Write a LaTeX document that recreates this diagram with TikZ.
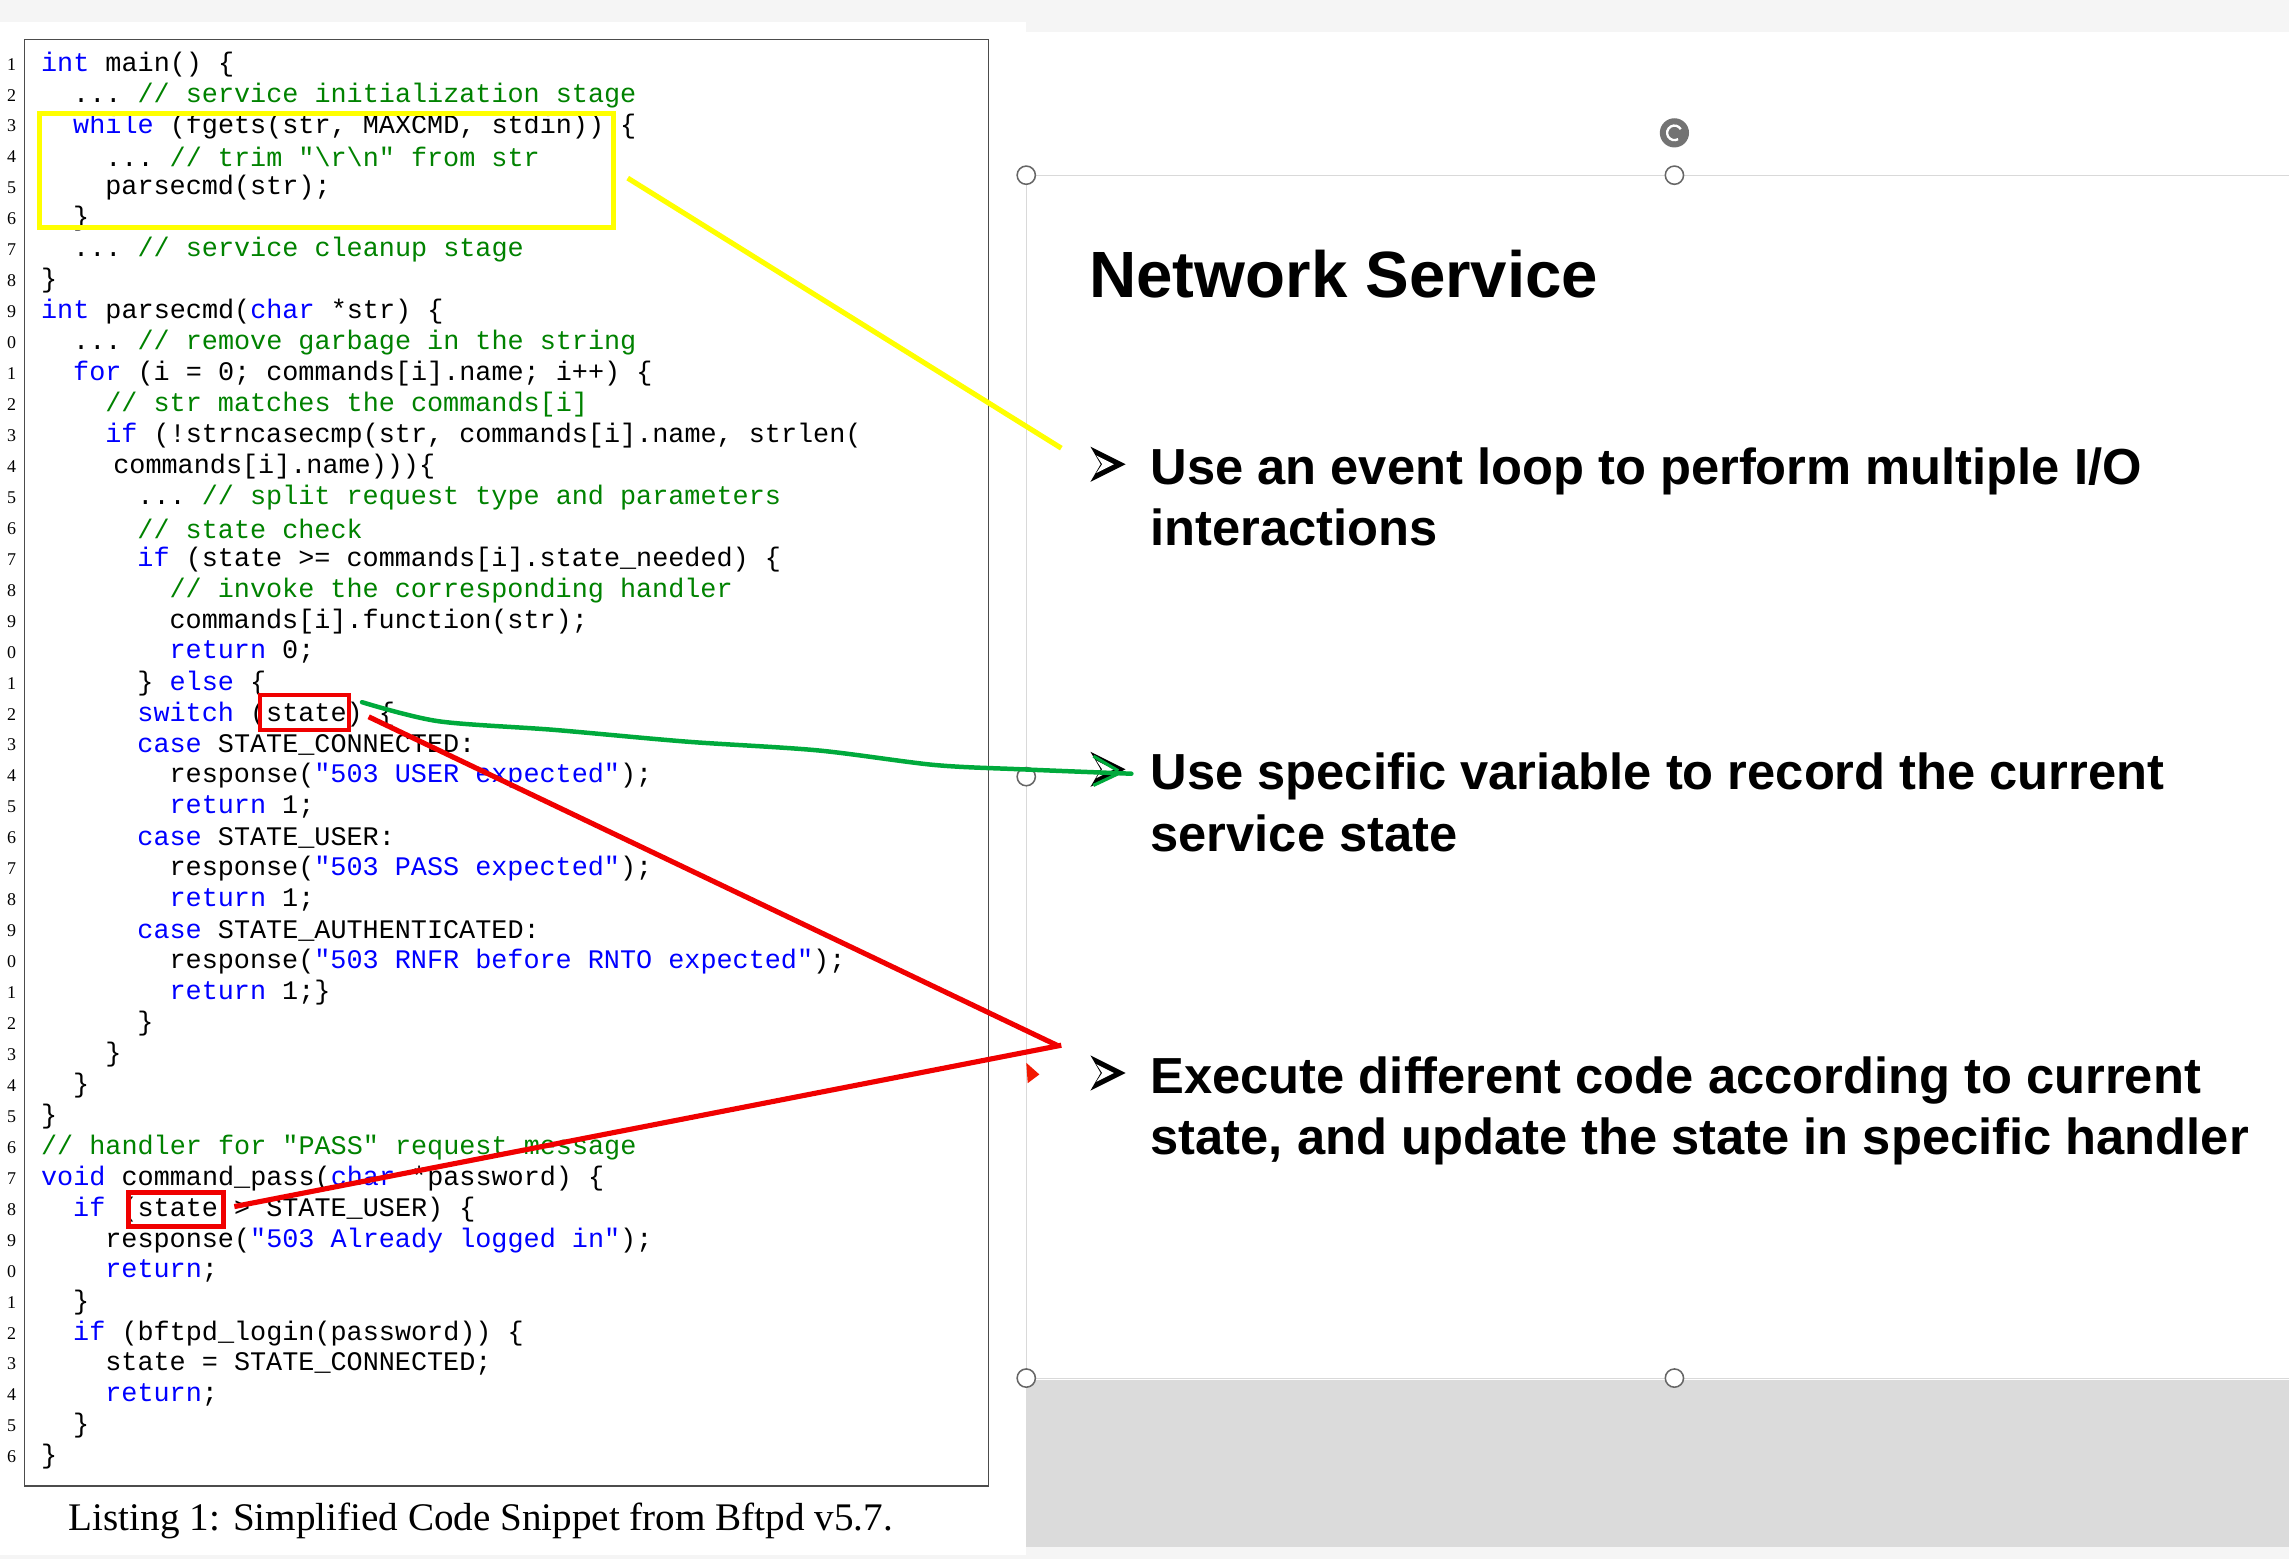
\documentclass[tikz,border=0pt]{standalone}
\usepackage{fontspec}
\setmainfont{Liberation Serif}
\setmonofont{Liberation Mono}
\newfontfamily\slidefont{Liberation Sans}
\usetikzlibrary{calc}
\newcommand{\kw}[1]{\textcolor{blue}{#1}}
\newcommand{\cm}[1]{\textcolor{codegreen}{#1}}
\definecolor{codegreen}{RGB}{0,130,0}
\definecolor{hl}{RGB}{255,255,0}
\definecolor{rd}{RGB}{240,0,0}
\definecolor{gn}{RGB}{0,170,60}
\tikzset{codeline/.style={anchor=west,inner sep=0pt,font=\ttfamily\fontsize{20.9}{22}\selectfont},
 lnum/.style={anchor=center,inner sep=0pt,font=\fontsize{14}{15}\selectfont},
 handle/.style={circle,draw=black!60,fill=white,line width=1.2pt,minimum size=0.5cm,inner sep=0pt},
 bullettext/.style={anchor=base west,inner sep=0pt,font=\slidefont\bfseries\fontsize{39.5}{44}\selectfont}}
\begin{document}
\begin{tikzpicture}[x=0.04cm,y=-0.04cm]
\useasboundingbox (0,0) rectangle (1568,1068);
\fill[black!4] (0,0) rectangle (1568,1068);
\fill[white] (0,15) rectangle (703,1065);
\fill[white] (703,22) rectangle (1568,945);
\fill[black!14] (703,945) rectangle (1568,1060);
\draw[black!15,line width=0.8pt] (703,120) -- (1568,120) (703,120) -- (703,944) -- (1568,944);
% code box
\draw[black!70,line width=1pt] (17,27) rectangle (677,1018);
\foreach \n in {1,...,46}{
  \pgfmathtruncatemacro{\d}{mod(\n,10)}
  \node[lnum] at (8,{44+(\n-1)*21.2}) {\d};
}
\newcommand{\cl}[3]{\node[codeline] (c#1) at ({28+11*#2},{44+(#1-1)*21.2}) {#3};}
\cl{1}{0}{\kw{int} main() \{}
\cl{2}{2}{... \cm{// service initialization stage}}
\cl{3}{2}{\kw{while} (fgets(str, MAXCMD, stdin)) \{}
\cl{4}{4}{... \cm{// trim "\textbackslash r\textbackslash n" from str}}
\cl{5}{4}{parsecmd(str);}
\cl{6}{2}{\}}
\cl{7}{2}{... \cm{// service cleanup stage}}
\cl{8}{0}{\}}
\cl{9}{0}{\kw{int} parsecmd(\kw{char} *str) \{}
\cl{10}{2}{... \cm{// remove garbage in the string}}
\cl{11}{2}{\kw{for} (i = 0; commands[i].name; i++) \{}
\cl{12}{4}{\cm{// str matches the commands[i]}}
\cl{13}{4}{\kw{if} (!strncasecmp(str, commands[i].name, strlen(}
\cl{14}{4.5}{commands[i].name)))\{}
\cl{15}{6}{... \cm{// split request type and parameters}}
\cl{16}{6}{\cm{// state check}}
\cl{17}{6}{\kw{if} (state >= commands[i].state\_needed) \{}
\cl{18}{8}{\cm{// invoke the corresponding handler}}
\cl{19}{8}{commands[i].function(str);}
\cl{20}{8}{\kw{return} 0;}
\cl{21}{6}{\} \kw{else} \{}
\cl{22}{6}{\kw{switch} (state) \{}
\cl{23}{6}{\kw{case} STATE\_CONNECTED:}
\cl{24}{8}{response(\kw{"503 USER expected"});}
\cl{25}{8}{\kw{return} 1;}
\cl{26}{6}{\kw{case} STATE\_USER:}
\cl{27}{8}{response(\kw{"503 PASS expected"});}
\cl{28}{8}{\kw{return} 1;}
\cl{29}{6}{\kw{case} STATE\_AUTHENTICATED:}
\cl{30}{8}{response(\kw{"503 RNFR before RNTO expected"});}
\cl{31}{8}{\kw{return} 1;\}}
\cl{32}{6}{\}}
\cl{33}{4}{\}}
\cl{34}{2}{\}}
\cl{35}{0}{\}}
\cl{36}{0}{\cm{// handler for "PASS" request message}}
\cl{37}{0}{\kw{void} command\_pass(\kw{char} *password) \{}
\cl{38}{2}{\kw{if} (state > STATE\_USER) \{}
\cl{39}{4}{response(\kw{"503 Already logged in"});}
\cl{40}{4}{\kw{return};}
\cl{41}{2}{\}}
\cl{42}{2}{\kw{if} (bftpd\_login(password)) \{}
\cl{43}{4}{state = STATE\_CONNECTED;}
\cl{44}{4}{\kw{return};}
\cl{45}{2}{\}}
\cl{46}{0}{\}}
\node[anchor=west,inner sep=0pt,font=\fontsize{30.5}{32}\selectfont] (cap) at (47,1042) {Listing 1: Simplified Code Snippet from Bftpd v5.7.};
% slide
\node[anchor=west,inner sep=0pt,font=\slidefont\bfseries\fontsize{51}{56}\selectfont] (title) at (746,188) {Network Service};
\foreach \y/\nm in {318/b1,527/b2,735/b3}{
  \coordinate (\nm) at (758,\y);
  \fill[black] (747,\y-12) -- (771,\y) -- (747,\y+12) -- (754,\y) -- cycle;
  \fill[white] (751,\y-6) -- (763,\y) -- (751,\y+6) -- (755,\y) -- cycle;
}
\node[bullettext] (t1a) at (788,332) {Use an event loop to perform multiple I/O};
\node[bullettext] (t1b) at (788,374) {interactions};
\node[bullettext] (t2a) at (788,541) {Use specific variable to record the current};
\node[bullettext] (t2b) at (788,583) {service state};
\node[bullettext] (t3a) at (788,749) {Execute different code according to current};
\node[bullettext] (t3b) at (788,791) {state, and update the state in specific handler};
% handles
\node[handle] (h1) at (703,120) {};
\node[handle] (h2) at (1147,120) {};
\node[handle] (h3) at (703,532) {};
\node[handle] (h4) at (703,944) {};
\node[handle] (h5) at (1147,944) {};
\node[circle,fill=black!55,minimum size=0.8cm,inner sep=0pt] (rot) at (1147,91) {};
\draw[white,line width=1.8pt] (1147,91) ++(60:5) arc (60:330:5);
% annotations
\node[draw=hl,line width=4pt,minimum width=393*0.04cm,minimum height=78*0.04cm,inner sep=0pt] (ybox) at (223.5,117) {};
\coordinate (yend) at (727,307);
\draw[hl,line width=4pt] (430,122) -- (yend);
\node[draw=rd,line width=3.5pt,minimum width=61*0.04cm,minimum height=24*0.04cm,inner sep=0pt] (rbox1) at (208.5,488) {};
\node[draw=rd,line width=3.5pt,minimum width=65*0.04cm,minimum height=23*0.04cm,inner sep=0pt] (rbox2) at (120.5,828.5) {};
\coordinate (rend) at (724,716);
\draw[rd,line width=4pt] (rbox1.east) ++(12,3) -- (rend);
\draw[rd,line width=4pt] (rbox2.east) ++(6,-2) -- (727,716);
\fill[rd!80!orange] (703,728) -- (712,736) -- (704,742) -- cycle;
\coordinate (gend) at (775,530);
\draw[gn,line width=3.5pt,line cap=round] plot[smooth] coordinates {(248,481) (300,494) (380,500) (470,508) (560,514) (640,524) (700,527) (775,530)};
\draw[gn,line width=2.5pt] (749,518) -- (766,528) (749,538) -- (766,530);
\end{tikzpicture}
\end{document}
